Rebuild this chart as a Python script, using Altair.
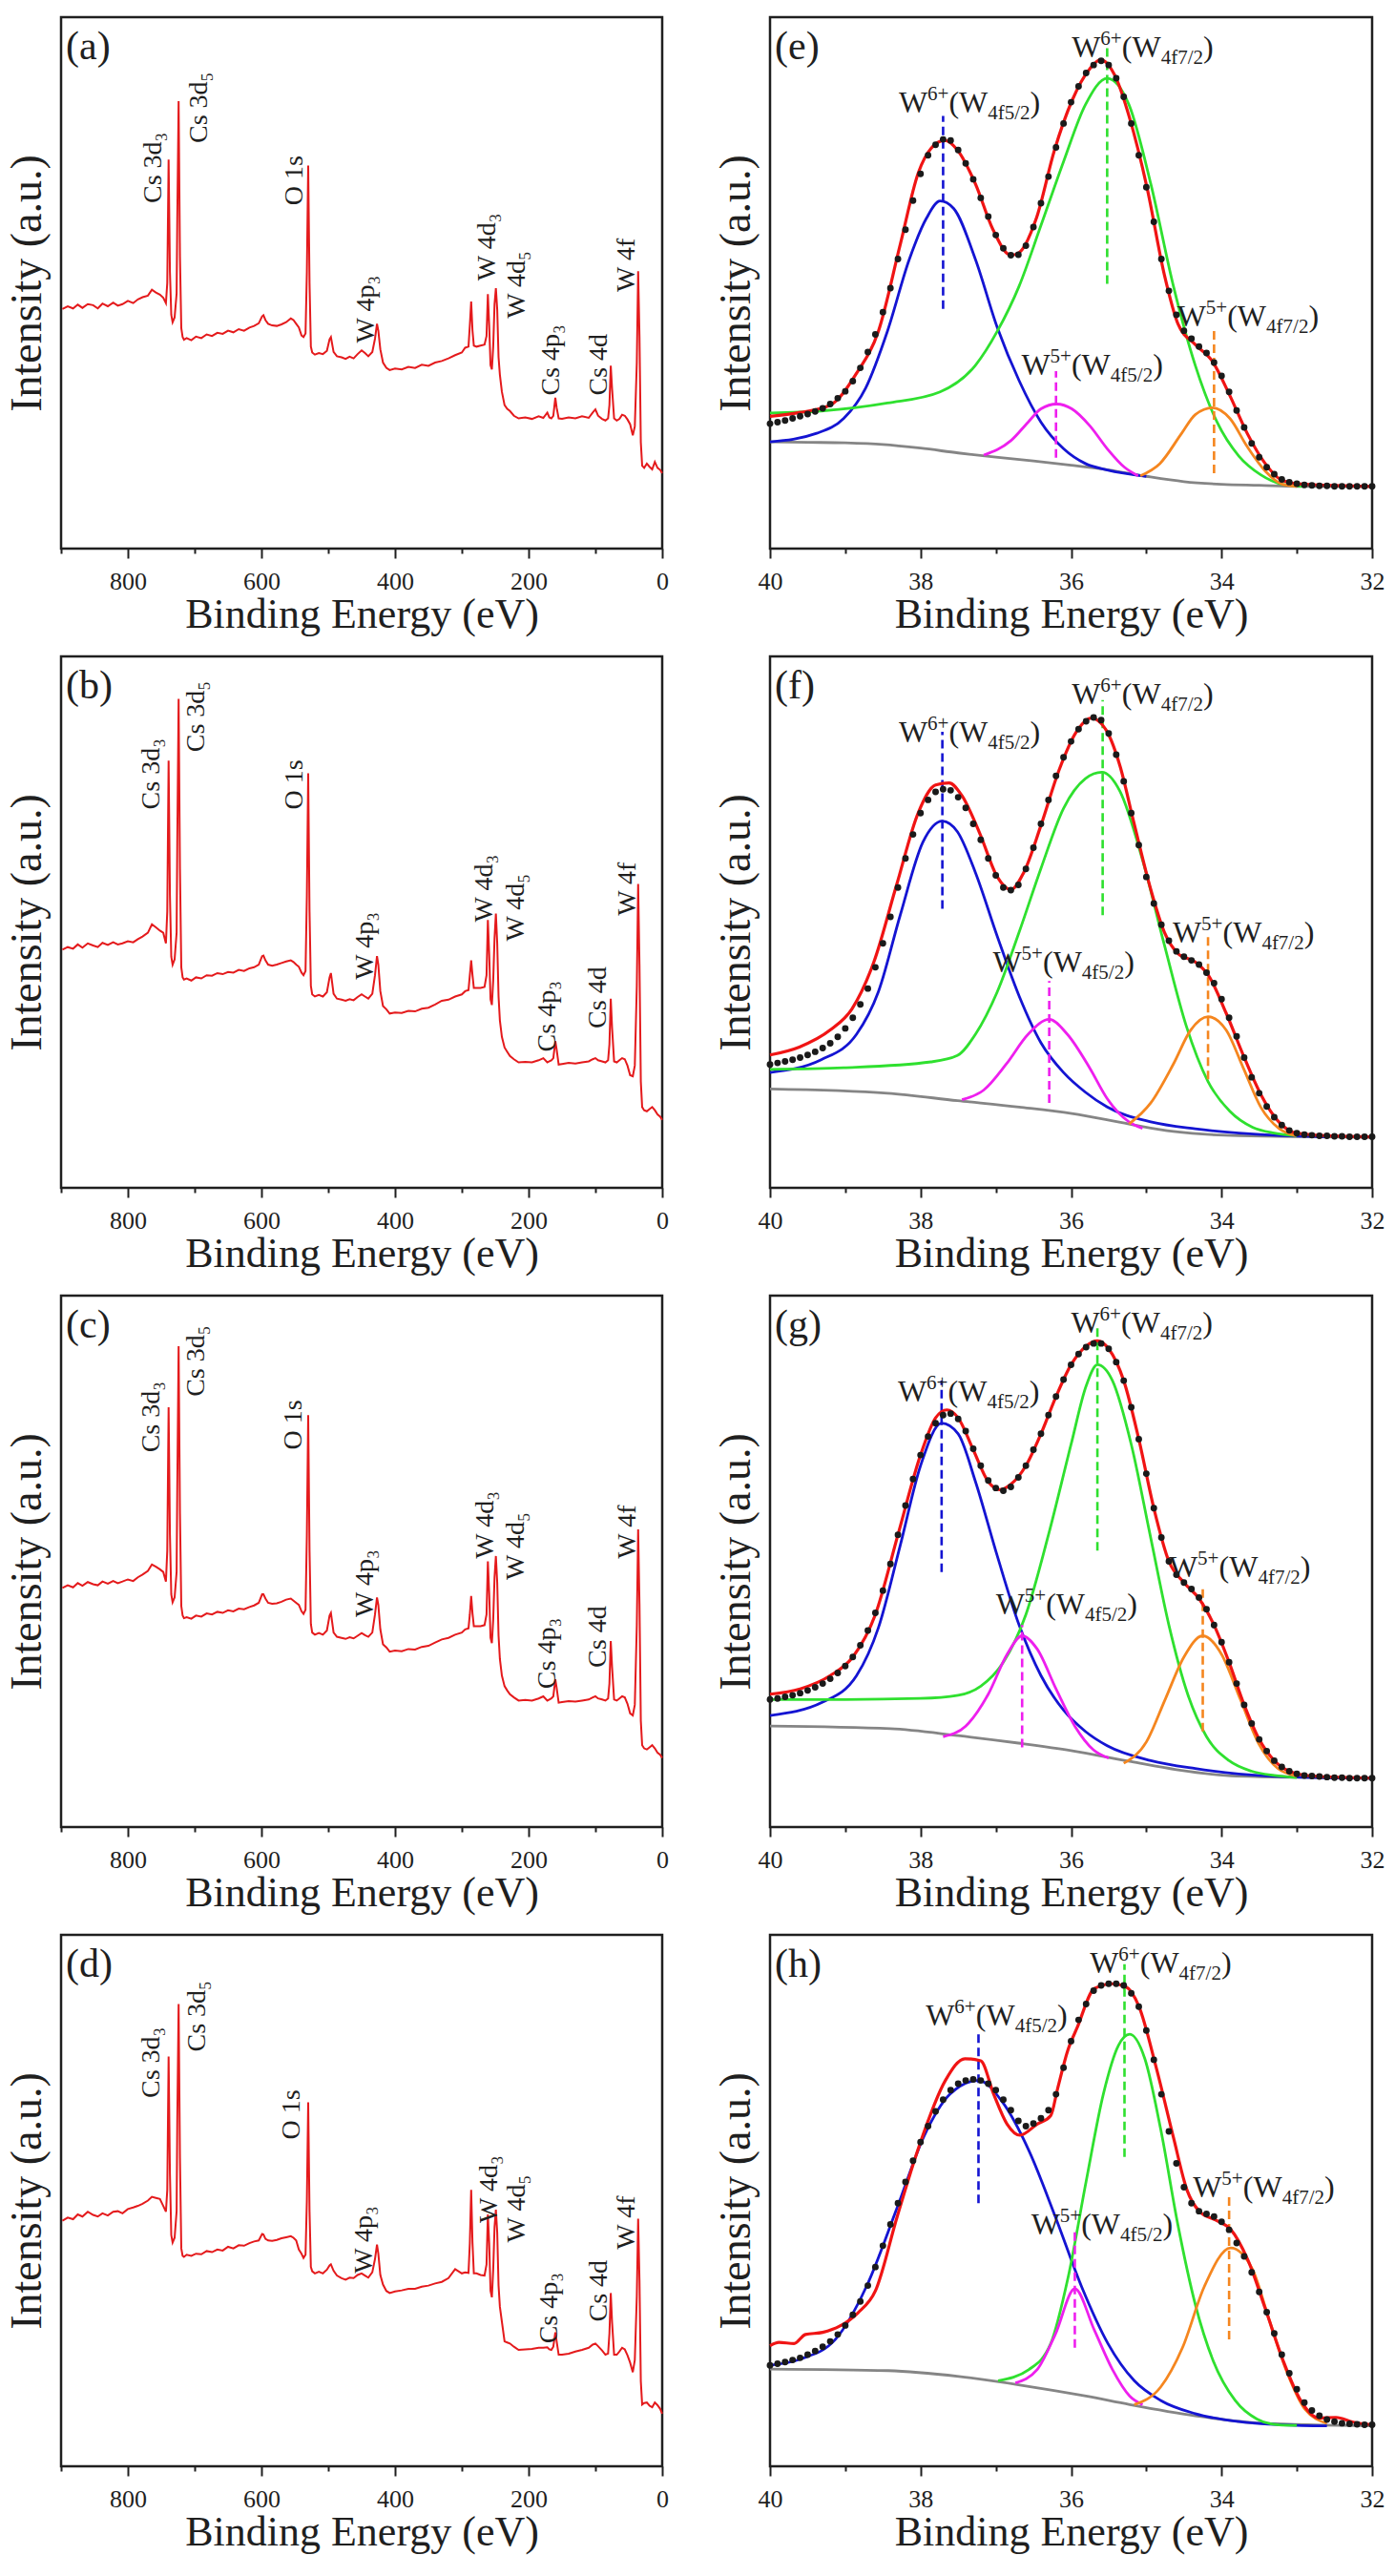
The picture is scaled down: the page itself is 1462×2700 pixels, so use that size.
import altair as alt
import pandas as pd

FONT = "Liberation Serif"
INK = "#1f1f1f"
SURVEY_RED = "#e41a1c"
FIT_RED = "#f01414"
BLUE = "#1414d2"
GREEN = "#2fe02f"
MAGENTA = "#ee1fee"
ORANGE = "#f5861f"
GRAY = "#858585"
DOT = "#1a1a1a"

PW_L, PW_R, PH = 630, 631, 557

# ---------------- survey spectra (a)-(d) ----------------
survey_E = [
    898, 890, 882, 875, 868, 860, 852, 845, 838, 830,
    822, 815, 808, 800, 792, 785, 778, 770, 764, 758,
    752, 747, 743, 741, 739, 737, 735, 733, 730, 727,
    726, 724, 722, 720, 718, 716, 712, 705, 698, 690,
    682, 674, 666, 658, 650, 642, 634, 626, 618, 611,
    604, 599, 597, 594, 590, 584, 577, 570, 563, 556,
    552, 548, 544, 540, 537, 534, 532, 530, 528, 526,
    524, 520, 514, 508, 502, 498, 496, 492, 487, 480,
    474, 468, 462, 456, 450, 445, 440, 434, 430, 427,
    425, 422, 418, 413, 408, 400, 390, 380, 370, 360,
    350, 340, 330, 320, 310, 300, 295, 290, 288, 286,
    284, 282, 278, 272, 266, 263, 261, 259, 257, 255,
    253, 251, 249, 247, 245, 243, 240, 236, 232, 228,
    222, 215, 205, 195, 185, 178, 172, 169, 166, 163,
    160, 158, 155, 150, 140, 130, 120, 110, 104, 100,
    96, 90, 85, 81, 79, 77, 75, 72, 68, 64,
    60, 56, 52, 48, 44, 41, 38, 36, 34, 32,
    30, 27, 23, 19, 15, 11, 7, 3, 0,
]

survey_a = [
    45.1, 45.6, 45.2, 45.9, 45.3, 46.0, 45.8, 45.2, 46.1, 45.6,
    46.3, 45.7, 46.0, 46.6, 46.2, 46.9, 47.3, 47.6, 48.7, 48.2,
    47.8, 47.2, 46.2, 50.0, 73.2, 52.0, 44.0, 42.6, 43.5, 48.0,
    62.0, 84.2, 55.0, 41.5, 39.8, 39.3, 39.6, 39.2, 39.9, 39.6,
    40.3, 40.0, 40.6, 40.4, 41.0, 40.7, 41.3, 41.0, 41.6, 41.9,
    42.4, 43.7, 43.9, 43.0, 42.3, 42.0, 41.9, 42.2, 42.6, 43.3,
    43.0, 42.3, 41.6, 40.1, 39.8, 40.5, 52.0, 72.1, 50.0, 38.0,
    36.9, 36.5, 36.8, 36.6, 37.2, 39.4, 39.8, 37.0, 36.2, 36.0,
    35.7, 36.1, 35.8, 36.6, 37.3, 36.8, 36.2, 37.0, 39.5, 42.3,
    41.0, 37.5, 35.0, 34.0, 33.6, 33.9, 33.7, 34.2, 34.0, 34.6,
    34.4, 35.0, 35.3, 35.8, 36.4, 36.9, 37.8, 38.0, 42.0, 46.5,
    41.0, 38.2, 38.0, 38.2, 38.4, 40.0, 47.9, 42.0, 34.5, 33.7,
    38.0, 46.0, 49.0, 45.0, 36.0, 32.7, 29.5, 27.0, 26.3, 25.9,
    25.0, 24.5, 24.7, 24.4, 24.9, 24.6, 25.6, 24.7, 24.5, 25.0,
    28.4, 26.5, 24.5, 24.4, 24.7, 24.5, 24.9, 24.6, 25.6, 26.2,
    25.0, 24.4, 24.1, 24.5, 27.0, 34.4, 30.0, 24.5, 24.1, 24.4,
    25.2, 25.0, 24.3, 23.4, 21.3, 23.0, 35.0, 52.2, 40.0, 20.0,
    15.6, 15.2, 16.0, 15.4, 14.9, 16.3, 15.2, 14.8, 14.2,
]

survey_b = [
    44.8, 45.3, 45.0, 45.8, 45.2, 46.0, 45.6, 45.3, 46.1, 45.7,
    46.2, 45.8, 46.0, 46.4, 46.2, 46.8, 47.3, 48.0, 49.6, 49.0,
    48.4, 48.0, 46.0, 52.0, 80.4, 55.0, 43.5, 42.0, 43.0, 48.0,
    65.0, 92.0, 60.0, 41.5, 39.6, 39.2, 39.4, 39.0, 39.6, 39.4,
    40.0, 39.9, 40.4, 40.2, 40.6, 40.5, 41.0, 40.8, 41.3, 41.5,
    42.0, 43.6, 43.7, 42.8, 42.0, 41.8, 42.0, 42.3, 42.6, 42.8,
    42.5, 42.0, 41.6, 40.5, 40.0, 40.8, 55.0, 78.0, 52.0, 38.0,
    36.4, 36.0, 36.3, 36.0, 36.8, 39.6, 40.4, 36.5, 35.6, 35.4,
    35.2, 35.5, 35.3, 35.9, 36.4, 36.0, 35.6, 36.5, 40.0, 43.6,
    42.0, 37.0, 34.2, 33.6, 32.8, 33.0, 32.9, 33.3, 33.2, 33.7,
    33.9, 34.5, 35.2, 35.4, 36.0, 36.4, 37.0, 37.2, 40.0, 42.8,
    40.0, 37.6, 37.6, 37.6, 37.8, 40.0, 50.4, 44.0, 35.5, 34.4,
    39.0, 47.0, 51.6, 46.0, 36.0, 31.5, 28.4, 26.4, 25.6, 24.8,
    24.2, 23.6, 23.7, 23.6, 24.0, 24.4, 23.6, 23.8, 24.0, 24.4,
    27.6, 26.0, 23.2, 23.3, 23.5, 23.4, 23.6, 23.8, 24.2, 24.4,
    24.0, 23.8, 23.6, 24.0, 27.0, 35.6, 30.0, 23.8, 23.6, 24.0,
    24.4, 24.2, 23.0, 21.2, 21.0, 23.0, 38.0, 57.2, 42.0, 20.0,
    15.2, 14.6, 14.4, 14.8, 15.2, 14.6, 13.8, 13.4, 12.8,
]

survey_c = [
    45.0, 45.5, 45.1, 45.9, 45.4, 46.1, 45.7, 45.5, 46.2, 45.8,
    46.3, 45.9, 46.2, 46.6, 46.3, 47.0, 47.5, 48.2, 49.4, 49.0,
    48.5, 48.0, 46.2, 52.0, 79.0, 55.0, 43.8, 42.3, 43.2, 48.0,
    64.0, 90.5, 59.0, 41.6, 39.8, 39.3, 39.5, 39.2, 39.8, 39.6,
    40.2, 40.0, 40.5, 40.3, 40.8, 40.6, 41.1, 41.0, 41.4, 41.7,
    42.2, 43.8, 43.8, 43.0, 42.2, 42.0, 42.1, 42.4, 42.8, 43.0,
    42.6, 42.2, 41.8, 40.6, 40.1, 40.9, 55.0, 77.5, 52.0, 38.2,
    36.6, 36.2, 36.5, 36.2, 37.0, 39.8, 40.3, 36.6, 35.8, 35.6,
    35.4, 35.7, 35.5, 36.0, 36.5, 36.1, 35.8, 36.6, 40.0, 43.2,
    41.8, 37.2, 34.4, 33.8, 33.0, 33.2, 33.1, 33.5, 33.4, 33.9,
    34.1, 34.7, 35.3, 35.6, 36.2, 36.6, 37.2, 37.4, 40.0, 43.5,
    40.2, 37.8, 37.8, 37.8, 38.0, 40.0, 50.0, 44.0, 35.6, 34.6,
    39.0, 47.0, 51.0, 46.0, 36.0, 31.6, 28.5, 26.5, 25.7, 25.0,
    24.4, 23.8, 23.9, 23.8, 24.2, 24.6, 23.8, 24.0, 24.2, 24.6,
    27.8, 26.2, 23.4, 23.5, 23.7, 23.6, 23.8, 24.0, 24.4, 24.6,
    24.2, 24.0, 23.8, 24.2, 27.0, 35.0, 30.0, 24.0, 23.8, 24.2,
    24.6, 24.4, 23.2, 21.4, 21.0, 23.0, 38.0, 56.0, 42.0, 20.0,
    15.4, 14.8, 14.6, 15.0, 15.4, 14.8, 14.0, 13.6, 13.0,
]

survey_d = [
    46.2, 46.8, 46.5, 47.4, 47.0, 47.9, 47.3, 47.0, 47.6, 47.2,
    47.9, 48.0, 47.6, 48.4, 48.7, 49.0, 49.4, 50.0, 50.7, 50.5,
    50.3, 49.0, 47.9, 52.0, 77.1, 55.0, 43.5, 42.1, 43.0, 48.0,
    65.0, 87.0, 58.0, 41.0, 39.6, 39.4, 39.8, 39.6, 40.0, 39.9,
    40.5, 40.3, 40.8, 40.6, 41.3, 41.0, 41.6, 41.5, 42.0, 42.3,
    42.5, 43.7, 43.6, 42.8, 42.5, 42.4, 42.6, 42.9, 43.1, 43.3,
    43.0, 42.5, 40.8, 40.0, 39.2, 39.8, 50.0, 68.5, 48.0, 37.5,
    36.7, 36.3, 36.6, 36.3, 37.0, 37.8, 38.0, 36.8, 35.9, 35.4,
    35.1, 35.5, 35.4, 36.0, 36.3, 35.9, 35.5, 36.5, 39.0, 41.7,
    40.0, 36.0, 34.2, 33.0, 32.6, 32.9, 33.1, 33.4, 33.4, 33.8,
    34.0, 34.4, 34.7, 35.4, 37.1, 36.3, 36.5, 36.4, 42.0, 52.0,
    42.0, 36.3, 36.3, 36.0, 35.9, 38.0, 47.4, 42.0, 33.0, 31.8,
    37.0, 45.0, 48.3, 44.0, 34.0, 30.0, 27.2, 23.5, 23.3, 23.1,
    22.5, 21.9, 22.0, 22.1, 22.3, 22.3, 22.4, 22.0, 21.9, 22.5,
    25.2, 23.5, 21.0, 21.0, 21.2, 21.6, 21.9, 22.3, 22.9, 23.1,
    22.6, 21.8, 21.0, 21.2, 25.0, 32.6, 27.0, 21.0, 21.0, 21.6,
    22.3, 22.0, 20.9, 19.5, 17.7, 20.0, 32.0, 46.6, 35.0, 16.0,
    11.6, 11.9, 12.0, 11.4, 11.1, 12.0, 11.5, 10.8, 9.9,
]

peak_names = ["Cs 3d\u2083", "Cs 3d\u2085", "O 1s", "W 4p\u2083", "W 4d\u2083",
              "W 4d\u2085", "Cs 4p\u2083", "Cs 4d", "W 4f"]
lab_a_E = [761, 693, 550, 443, 262, 217, 166, 94, 53]
lab_a_I = [65.0, 76.3, 64.6, 38.7, 50.4, 43.3, 28.8, 28.8, 48.3]
lab_b_E = [765, 697, 550, 444, 266, 219, 171, 96, 51]
lab_b_I = [71.2, 82.0, 71.2, 39.2, 50.0, 46.4, 25.6, 30.0, 51.2]
lab_c_E = [765, 697, 551, 444, 265, 218, 171, 96, 52]
lab_c_I = [70.5, 81.0, 71.0, 39.5, 50.5, 46.5, 26.0, 30.0, 50.5]
lab_d_E = [764, 696, 554, 446, 259, 217, 169, 94, 53]
lab_d_I = [69.3, 78.0, 61.5, 36.3, 45.8, 42.1, 23.1, 27.2, 40.8]

# ---------------- W 4f high-resolution spectra (e)-(h) ----------------
# (e)
e_bg_E = [40, 39.5, 39, 38.5, 38, 37.5, 37, 36.5, 36, 35.5, 35, 34.5, 34, 33.5, 33, 32]
e_bg_I = [20.1, 20.0, 19.9, 19.6, 18.9, 18.0, 17.2, 16.5, 15.7, 14.8, 13.6, 12.6, 12.1, 11.9, 11.7, 11.7]
e_blue_E = [40, 39.38, 39.02, 38.73, 38.44, 38.15, 37.92, 37.74, 37.56, 37.27, 36.98, 36.69, 36.40, 36.10, 35.81, 35.52, 35.0]
e_blue_I = [20.1, 21.7, 24.5, 30.2, 40.9, 54.4, 62.2, 65.4, 64.0, 54.4, 41.6, 31.6, 23.8, 18.8, 16.0, 14.8, 13.6]
e_green_E = [40, 39.32, 38.44, 37.74, 37.27, 36.98, 36.69, 36.40, 36.10, 35.81, 35.52, 35.23, 34.94, 34.64, 34.35, 34.06, 33.77, 33.48, 33.19, 32.9]
e_green_I = [25.5, 25.9, 27.4, 29.5, 34.5, 40.9, 49.4, 60.8, 72.8, 83.5, 88.5, 83.5, 68.6, 49.4, 34.5, 23.8, 17.4, 13.9, 12.1, 11.7]
e_mag_E = [37.16, 36.8, 36.57, 36.40, 36.19, 35.99, 35.75, 35.52, 35.29, 35.11]
e_mag_I = [17.6, 20.3, 23.8, 26.3, 27.2, 26.3, 23.1, 18.8, 15.3, 13.7]
e_org_E = [35.08, 34.82, 34.53, 34.35, 34.12, 33.89, 33.66, 33.42, 33.19, 33.0]
e_org_I = [13.7, 16.0, 21.7, 25.2, 26.5, 24.5, 19.2, 14.6, 12.1, 11.7]
e_red_E = [40, 39.61, 39.2, 38.85, 38.56, 38.27, 38.03, 37.86, 37.68, 37.51, 37.27, 37.04, 36.8, 36.69, 36.46,
           36.22, 35.99, 35.75, 35.61, 35.4, 35.23, 34.99, 34.76, 34.58, 34.35, 34.12, 33.89, 33.66, 33.42, 33.19, 32.9, 32]
e_red_I = [24.9, 25.6, 27.0, 33.0, 40.9, 57.2, 70.7, 75.3, 76.8, 75.0, 68.6, 60.1, 55.2, 55.7, 62.2,
           75.0, 84.2, 90.3, 92.0, 88.5, 81.4, 67.9, 51.5, 42.3, 38.4, 35.2, 28.8, 21.7, 16.0, 12.8, 12.1, 11.7]
e_dots = [23.5,
          23.8, 24.1, 24.5, 24.9, 25.3, 25.8, 26.4, 27.2, 28.3, 29.6,
          31.5, 34.0, 37.0, 40.3, 44.5, 49.0, 54.5, 60.0, 65.5, 70.5,
          74.0, 76.0, 77.0, 76.8, 75.0, 72.5, 69.5, 66.0, 62.5, 59.0,
          56.5, 55.2, 55.3, 57.0, 60.5, 65.0, 70.0, 75.5, 80.0, 84.0,
          87.0, 89.5, 91.0, 91.8, 91.0, 88.5, 85.0, 80.0, 74.0, 68.0,
          61.5, 54.5, 48.5, 44.0, 41.0, 39.5, 38.0, 36.8, 35.0, 32.5,
          29.5, 26.0, 22.8, 19.8, 17.2, 15.3, 14.0, 13.0, 12.5, 12.2,
          12.0, 11.9, 11.8, 11.8, 11.7, 11.7, 11.7, 11.7, 11.7, 11.7]
e_dash = [(37.70, 45.1, 81.4, BLUE), (35.52, 49.8, 94.2, GREEN), (36.20, 17.1, 33.4, MAGENTA), (34.10, 14.2, 41.6, ORANGE)]
e_lab = [(38.29, 82.1, "6+", "4f5/2"), (35.99, 92.4, "6+", "4f7/2"), (36.66, 32.7, "5+", "4f5/2"), (34.59, 41.9, "5+", "4f7/2")]

# (f)
f_bg_E = [40, 38.44, 37.51, 36.69, 35.99, 35.23, 34.64, 33.77, 32]
f_bg_I = [18.6, 17.8, 16.4, 15.2, 14.0, 12.0, 10.6, 9.8, 9.5]
f_blue_E = [40, 39.32, 38.85, 38.56, 38.27, 37.97, 37.71, 37.51, 37.27, 36.98, 36.69, 36.40, 36.10, 35.81, 35.52, 34.94, 34.35, 33.77, 33.19, 32.6]
f_blue_I = [21.7, 24.1, 28.9, 36.9, 51.3, 65.0, 69.0, 67.0, 59.3, 47.3, 36.1, 27.3, 21.7, 18.0, 15.2, 12.4, 11.1, 10.3, 9.8, 9.6]
f_green_E = [40, 39.02, 37.86, 37.51, 37.27, 36.98, 36.69, 36.4, 36.1, 35.81, 35.59, 35.35, 35.05, 34.76, 34.47, 34.18, 33.89, 33.59, 33.3, 33.0]
f_green_I = [22.3, 22.6, 23.7, 24.9, 28.9, 36.9, 48.1, 60.1, 71.4, 77.0, 78.2, 74.6, 61.7, 45.7, 30.5, 20.0, 14.4, 11.4, 10.3, 9.8]
f_mag_E = [37.45, 37.16, 36.86, 36.57, 36.29, 36.05, 35.75, 35.52, 35.23, 35.05]
f_mag_I = [16.6, 18.4, 23.3, 28.9, 31.7, 28.9, 22.5, 16.8, 12.4, 11.2]
f_org_E = [35.23, 34.94, 34.64, 34.41, 34.18, 33.94, 33.71, 33.48, 33.24, 33.01]
f_org_I = [12.0, 16.0, 23.3, 29.7, 32.2, 29.7, 22.5, 15.2, 11.2, 9.8]
f_red_E = [40, 39.61, 39.2, 38.91, 38.62, 38.32, 38.03, 37.8, 37.62, 37.45, 37.21, 36.98, 36.8, 36.63, 36.4, 36.16, 35.93,
           35.73, 35.52, 35.35, 35.17, 34.94, 34.76, 34.58, 34.35, 34.18, 33.94, 33.71, 33.48, 33.24, 33.01, 32.6, 32]
f_red_I = [25.0, 26.5, 29.7, 33.7, 42.5, 56.9, 70.6, 75.8, 76.2, 73.8, 66.6, 58.5, 56.1, 59.3, 68.2, 78.6, 85.8,
           88.4, 85.8, 79.4, 69.0, 56.1, 48.1, 44.1, 42.5, 40.1, 32.9, 24.9, 17.6, 12.4, 10.3, 9.8, 9.6]
f_dots = [23.2,
          23.5, 23.8, 24.1, 24.5, 25.0, 25.6, 26.3, 27.2, 28.4, 30.0,
          32.0, 34.5, 37.5, 41.5, 46.0, 51.0, 56.5, 62.0, 66.5, 70.5,
          73.0, 74.5, 75.0, 74.8, 73.5, 71.5, 68.5, 65.5, 62.0, 58.8,
          56.5, 56.0, 57.0, 60.0, 64.0, 68.5, 73.0, 77.5, 81.0, 84.0,
          86.3, 87.8, 88.5, 88.0, 85.5, 81.5, 76.5, 70.5, 64.5, 58.5,
          53.5, 49.5, 46.5, 44.5, 43.5, 42.8, 42.0, 40.5, 38.5, 35.5,
          32.0, 28.5, 24.5, 20.8, 17.8, 15.3, 13.3, 11.8, 10.8, 10.3,
          10.0, 9.9, 9.8, 9.8, 9.7, 9.7, 9.6, 9.6, 9.6, 9.6]
f_dash = [(37.71, 52.5, 85.8, BLUE), (35.58, 51.3, 91.8, GREEN), (36.29, 16.0, 38.9, MAGENTA), (34.18, 20.4, 47.3, ORANGE)]
f_lab = [(38.29, 83.8, "6+", "4f5/2"), (35.99, 91.0, "6+", "4f7/2"), (37.04, 40.5, "5+", "4f5/2"), (34.65, 46.1, "5+", "4f7/2")]

# (g)
g_bg_E = [40, 38.4, 37.5, 36.7, 36.0, 35.2, 34.6, 33.8, 32]
g_bg_I = [19.0, 18.5, 17.2, 15.8, 14.4, 12.3, 10.8, 9.6, 9.2]
g_blue_E = [40, 39.3, 38.85, 38.56, 38.27, 38.0, 37.72, 37.5, 37.27, 36.98, 36.69, 36.40, 36.10, 35.81, 35.52, 34.94, 34.35, 33.77, 33.0, 32]
g_blue_I = [21.0, 23.5, 28.5, 37.5, 53.0, 68.0, 76.0, 74.0, 65.0, 51.0, 38.0, 28.5, 22.0, 18.0, 15.3, 12.5, 11.0, 10.0, 9.4, 9.2]
g_green_E = [40, 39.0, 38.0, 37.5, 37.2, 36.9, 36.6, 36.3, 36.0, 35.8, 35.65, 35.45, 35.2, 34.95, 34.7, 34.45, 34.2, 33.9, 33.6, 33.3, 33.0]
g_green_I = [24.0, 24.0, 24.2, 24.8, 26.5, 31.0, 40.0, 55.0, 72.0, 83.0, 87.0, 84.0, 72.0, 55.0, 38.0, 25.0, 17.0, 12.5, 10.5, 9.7, 9.3]
g_mag_E = [37.7, 37.4, 37.1, 36.85, 36.65, 36.45, 36.2, 35.95, 35.7, 35.5]
g_mag_I = [17.0, 19.0, 25.0, 32.5, 36.0, 33.5, 26.0, 19.0, 14.5, 13.0]
g_org_E = [35.3, 35.0, 34.75, 34.5, 34.25, 34.0, 33.75, 33.5, 33.25, 33.0]
g_org_I = [12.0, 16.0, 24.0, 32.0, 36.0, 32.5, 24.0, 15.5, 11.0, 9.6]
g_red_E = [40, 39.6, 39.2, 38.9, 38.6, 38.3, 38.0, 37.8, 37.65, 37.5, 37.3, 37.1, 36.95, 36.8, 36.6, 36.4, 36.2, 36.0,
           35.8, 35.65, 35.5, 35.3, 35.1, 34.9, 34.7, 34.5, 34.3, 34.1, 33.9, 33.7, 33.5, 33.3, 33.1, 32.8, 32]
g_red_I = [25.0, 26.0, 28.5, 32.0, 40.0, 55.0, 70.0, 77.0, 78.5, 77.0, 71.0, 65.0, 63.5, 64.5, 68.0, 74.0, 81.0, 87.0,
           90.5, 91.5, 90.0, 84.0, 73.0, 60.0, 50.0, 46.0, 43.0, 38.0, 31.0, 23.0, 16.5, 12.5, 10.5, 9.6, 9.2]
g_dots = [24.0,
          24.2, 24.5, 24.8, 25.2, 25.7, 26.3, 27.0, 27.9, 29.0, 30.3,
          32.0, 34.2, 37.0, 40.3, 44.5, 49.5, 55.0, 60.5, 65.5, 70.0,
          73.5, 76.0, 77.5, 77.8, 76.8, 74.5, 71.2, 68.0, 65.2, 63.8,
          63.3, 64.0, 65.8, 68.0, 71.0, 74.0, 77.5, 81.0, 84.2, 87.0,
          89.0, 90.3, 91.0, 91.0, 90.0, 87.5, 84.0, 79.0, 73.0, 66.5,
          60.0, 54.5, 50.0, 47.5, 46.0, 44.8, 43.2, 41.0, 38.0, 34.8,
          31.0, 27.0, 23.0, 19.5, 16.5, 14.3, 12.5, 11.3, 10.5, 10.0,
          9.7, 9.6, 9.5, 9.4, 9.3, 9.3, 9.2, 9.2, 9.2, 9.2]
g_dash = [(37.72, 48.0, 84.0, BLUE), (35.65, 52.0, 94.0, GREEN), (36.65, 15.0, 38.0, MAGENTA), (34.25, 18.0, 45.0, ORANGE)]
g_lab = [(38.30, 80.0, "6+", "4f5/2"), (36.00, 93.0, "6+", "4f7/2"), (37.00, 40.0, "5+", "4f5/2"), (34.70, 47.0, "5+", "4f7/2")]

# (h)
h_bg_E = [40, 38.43, 37.49, 36.68, 35.8, 35.22, 34.35, 33.47, 32]
h_bg_I = [18.3, 18.0, 16.9, 15.3, 13.2, 11.6, 9.5, 8.1, 7.6]
h_blue_E = [40, 39.59, 39.13, 38.72, 38.31, 37.96, 37.61, 37.23, 36.91, 36.56, 36.21, 35.86, 35.51, 35.16, 34.81, 34.35, 33.77, 33.18, 32.6]
h_blue_I = [19.0, 20.2, 23.9, 33.8, 48.7, 61.9, 70.0, 72.6, 68.5, 59.4, 47.0, 33.8, 23.1, 16.1, 12.4, 9.9, 8.4, 7.8, 7.6]
h_green_E = [36.97, 36.56, 36.27, 36.04, 35.8, 35.57, 35.37, 35.22, 35.02, 34.81, 34.58, 34.35, 34.11, 33.82, 33.53, 33.24, 33.0]
h_green_I = [16.1, 18.2, 23.1, 35.5, 53.6, 70.1, 79.2, 81.3, 76.7, 63.5, 45.4, 30.5, 19.8, 12.4, 8.9, 7.8, 7.7]
h_mag_E = [36.74, 36.45, 36.21, 35.95, 35.69, 35.45, 35.22, 35.05]
h_mag_I = [15.7, 18.2, 24.8, 33.4, 25.6, 18.2, 13.2, 11.6]
h_org_E = [35.16, 34.81, 34.52, 34.23, 33.88, 33.59, 33.36, 33.12, 32.89, 32.6]
h_org_I = [11.6, 14.9, 22.3, 33.8, 41.1, 37.1, 27.2, 17.3, 10.7, 8.1]
h_red_E = [40, 39.88, 39.68, 39.53, 39.3, 39.07, 38.83, 38.6, 38.31, 38.02, 37.67, 37.41, 37.2, 37.03, 36.85, 36.68, 36.45,
           36.27, 36.18, 36.04, 35.92, 35.69, 35.45, 35.28, 35.1, 34.87, 34.64, 34.46, 34.29, 34.06, 33.88, 33.65, 33.42,
           33.18, 32.95, 32.71, 32.48, 32.25, 32]
h_red_I = [22.7, 23.3, 23.1, 24.8, 25.2, 26.4, 28.9, 33.0, 47.0, 60.2, 72.6, 76.7, 76.3, 70.1, 64.4, 62.3, 64.4,
           66.0, 71.0, 78.4, 82.5, 89.9, 90.8, 90.3, 86.6, 75.1, 61.9, 52.0, 47.9, 46.2, 44.6, 38.8, 29.7,
           19.8, 12.4, 9.1, 9.2, 8.3, 7.8]
h_dots = [19.0,
          19.3, 19.6, 20.0, 20.4, 21.0, 21.7, 22.5, 23.5, 24.8, 26.5,
          28.5, 31.0, 34.0, 37.5, 41.5, 45.5, 49.5, 53.5, 57.5, 61.0,
          64.0, 66.8, 69.0, 70.8, 72.0, 72.6, 72.8, 72.6, 72.0, 70.8,
          69.0, 67.0, 65.0, 64.0, 64.5, 65.5, 67.0, 70.0, 75.0, 80.0,
          84.0, 87.0, 89.5, 90.5, 90.8, 90.8, 90.5, 89.0, 86.5, 82.0,
          76.5, 70.0, 63.0, 57.0, 52.5, 49.5, 48.0, 47.5, 47.0, 46.0,
          44.5, 42.0, 39.5, 36.5, 32.8, 29.0, 25.0, 21.0, 17.5, 14.5,
          12.0, 10.5, 9.5, 8.8, 8.4, 8.1, 8.0, 7.9, 7.8, 7.8]
h_dash = [(37.23, 49.5, 81.3, BLUE), (35.29, 58.2, 94.5, GREEN), (35.95, 22.3, 44.1, MAGENTA), (33.90, 23.9, 51.2, ORANGE)]
h_lab = [(37.93, 82.9, "6+", "4f5/2"), (35.75, 92.8, "6+", "4f7/2"), (36.53, 43.7, "5+", "4f5/2"), (34.38, 50.7, "5+", "4f7/2")]

dots_E = [round(40 - 0.1 * i, 1) for i in range(81)]


# ---------------- chart builders ----------------
def y_enc():
    return alt.Y("I:Q", scale=alt.Scale(domain=[0, 100], nice=False, zero=False),
                 axis=alt.Axis(labels=False, ticks=False, domain=False, grid=False, titlePadding=12),
                 title="Intensity (a.u.)")


def x_enc(domain, values, test):
    return alt.X("E:Q", scale=alt.Scale(domain=domain, reverse=True, nice=False, zero=False),
                 axis=alt.Axis(values=values, labelExpr=f"({test}) ? format(datum.value, 'd') : ''",
                               tickSize={"condition": {"test": test, "value": 10}, "value": 5},
                               labelFlush=False, labelPadding=11, titlePadding=0,
                               domain=False, grid=False),
                 title="Binding Energy (eV)")


def tag_layer(tag):
    return alt.Chart(pd.DataFrame({"t": [tag]})).mark_text(
        align="left", baseline="top", font=FONT, fontSize=42, color=INK
    ).encode(x=alt.value(5), y=alt.value(11), text="t:N")


def survey_panel(tag, E, I, lab_E, lab_I):
    x = x_enc([0, 900], list(range(0, 901, 100)), "datum.value % 200 === 0")
    y = y_enc()
    line = alt.Chart(pd.DataFrame({"E": E, "I": I})).mark_line(
        color=SURVEY_RED, strokeWidth=2).encode(x=x, y=y)
    labs = alt.Chart(pd.DataFrame({"E": lab_E, "I": lab_I, "t": peak_names})).mark_text(
        angle=270, align="left", baseline="middle", font=FONT, fontSize=28, color=INK
    ).encode(x="E:Q", y="I:Q", text="t:N")
    return alt.layer(line, labs, tag_layer(tag)).properties(width=PW_L, height=PH)


def fit_panel(tag, comps, red, dots, dashes, labels):
    x = x_enc([32, 40], list(range(32, 41)), "datum.value % 2 === 0")
    y = y_enc()
    layers = []
    for E, I, color in comps:
        layers.append(alt.Chart(pd.DataFrame({"E": E, "I": I})).mark_line(
            color=color, strokeWidth=2.8, interpolate="monotone").encode(x=x, y=y))
    dd = pd.DataFrame({"E": [d[0] for d in dashes], "I": [d[1] for d in dashes],
                       "I2": [d[2] for d in dashes], "c": [d[3] for d in dashes]})
    layers.append(alt.Chart(dd).mark_rule(strokeWidth=2.6, strokeDash=[9, 5]).encode(
        x="E:Q", y="I:Q", y2="I2:Q", color=alt.Color("c:N", scale=None)))
    layers.append(alt.Chart(pd.DataFrame({"E": red[0], "I": red[1]})).mark_line(
        color=FIT_RED, strokeWidth=3.2, interpolate="monotone").encode(x=x, y=y))
    layers.append(alt.Chart(pd.DataFrame({"E": dots_E, "I": dots})).mark_circle(
        size=48, color=DOT, opacity=1).encode(x="E:Q", y="I:Q"))
    ld = pd.DataFrame({"E": [l[0] for l in labels], "I": [l[1] for l in labels],
                       "sup": [l[2] for l in labels], "sub": [l[3] for l in labels]})
    base = alt.Chart(ld)
    parts = [
        ("W", None, 0, 0, 32),
        (None, "sup", 30, -13, 21),
        ("(W", None, 52.5, 0, 32),
        (None, "sub", 93.4, 7, 21),
        (")", None, 137.7, 0, 32),
    ]
    for const, field, dx, dy, fs in parts:
        txt = alt.value(const) if const is not None else alt.Text(f"{field}:N")
        layers.append(base.mark_text(align="left", baseline="alphabetic", dx=dx, dy=dy,
                                     font=FONT, fontSize=fs, color=INK).encode(
            x="E:Q", y="I:Q", text=txt))
    layers.append(tag_layer(tag))
    return alt.layer(*layers).properties(width=PW_R, height=PH)


def comps_of(p):
    return [
        (p["bg"][0], p["bg"][1], GRAY),
        (p["blue"][0], p["blue"][1], BLUE),
        (p["green"][0], p["green"][1], GREEN),
        (p["mag"][0], p["mag"][1], MAGENTA),
        (p["org"][0], p["org"][1], ORANGE),
    ]


e_p = dict(bg=(e_bg_E, e_bg_I), blue=(e_blue_E, e_blue_I), green=(e_green_E, e_green_I), mag=(e_mag_E, e_mag_I), org=(e_org_E, e_org_I))
f_p = dict(bg=(f_bg_E, f_bg_I), blue=(f_blue_E, f_blue_I), green=(f_green_E, f_green_I), mag=(f_mag_E, f_mag_I), org=(f_org_E, f_org_I))
g_p = dict(bg=(g_bg_E, g_bg_I), blue=(g_blue_E, g_blue_I), green=(g_green_E, g_green_I), mag=(g_mag_E, g_mag_I), org=(g_org_E, g_org_I))
h_p = dict(bg=(h_bg_E, h_bg_I), blue=(h_blue_E, h_blue_I), green=(h_green_E, h_green_I), mag=(h_mag_E, h_mag_I), org=(h_org_E, h_org_I))

A = survey_panel("(a)", survey_E, survey_a, lab_a_E, lab_a_I)
B = survey_panel("(b)", survey_E, survey_b, lab_b_E, lab_b_I)
C = survey_panel("(c)", survey_E, survey_c, lab_c_E, lab_c_I)
D = survey_panel("(d)", survey_E, survey_d, lab_d_E, lab_d_I)
Ep = fit_panel("(e)", comps_of(e_p), (e_red_E, e_red_I), e_dots, e_dash, e_lab)
Fp = fit_panel("(f)", comps_of(f_p), (f_red_E, f_red_I), f_dots, f_dash, f_lab)
Gp = fit_panel("(g)", comps_of(g_p), (g_red_E, g_red_I), g_dots, g_dash, g_lab)
Hp = fit_panel("(h)", comps_of(h_p), (h_red_E, h_red_I), h_dots, h_dash, h_lab)

rows = [alt.hconcat(l, r, spacing=44) for l, r in [(A, Ep), (B, Fp), (C, Gp), (D, Hp)]]

chart = alt.vconcat(*rows, spacing=18).properties(
    padding={"left": 3, "top": 16, "right": 0, "bottom": 0},
    background="white",
).configure_view(
    stroke=INK, strokeWidth=2.5
).configure_axis(
    labelFont=FONT, labelFontSize=26, labelColor=INK,
    titleFont=FONT, titleFontSize=44, titleFontWeight="normal", titleColor=INK,
    tickColor=INK, tickWidth=2,
).configure_axisY(titleFontSize=46)

chart.save("out.html", embed_options={"renderer": "svg", "actions": False})
